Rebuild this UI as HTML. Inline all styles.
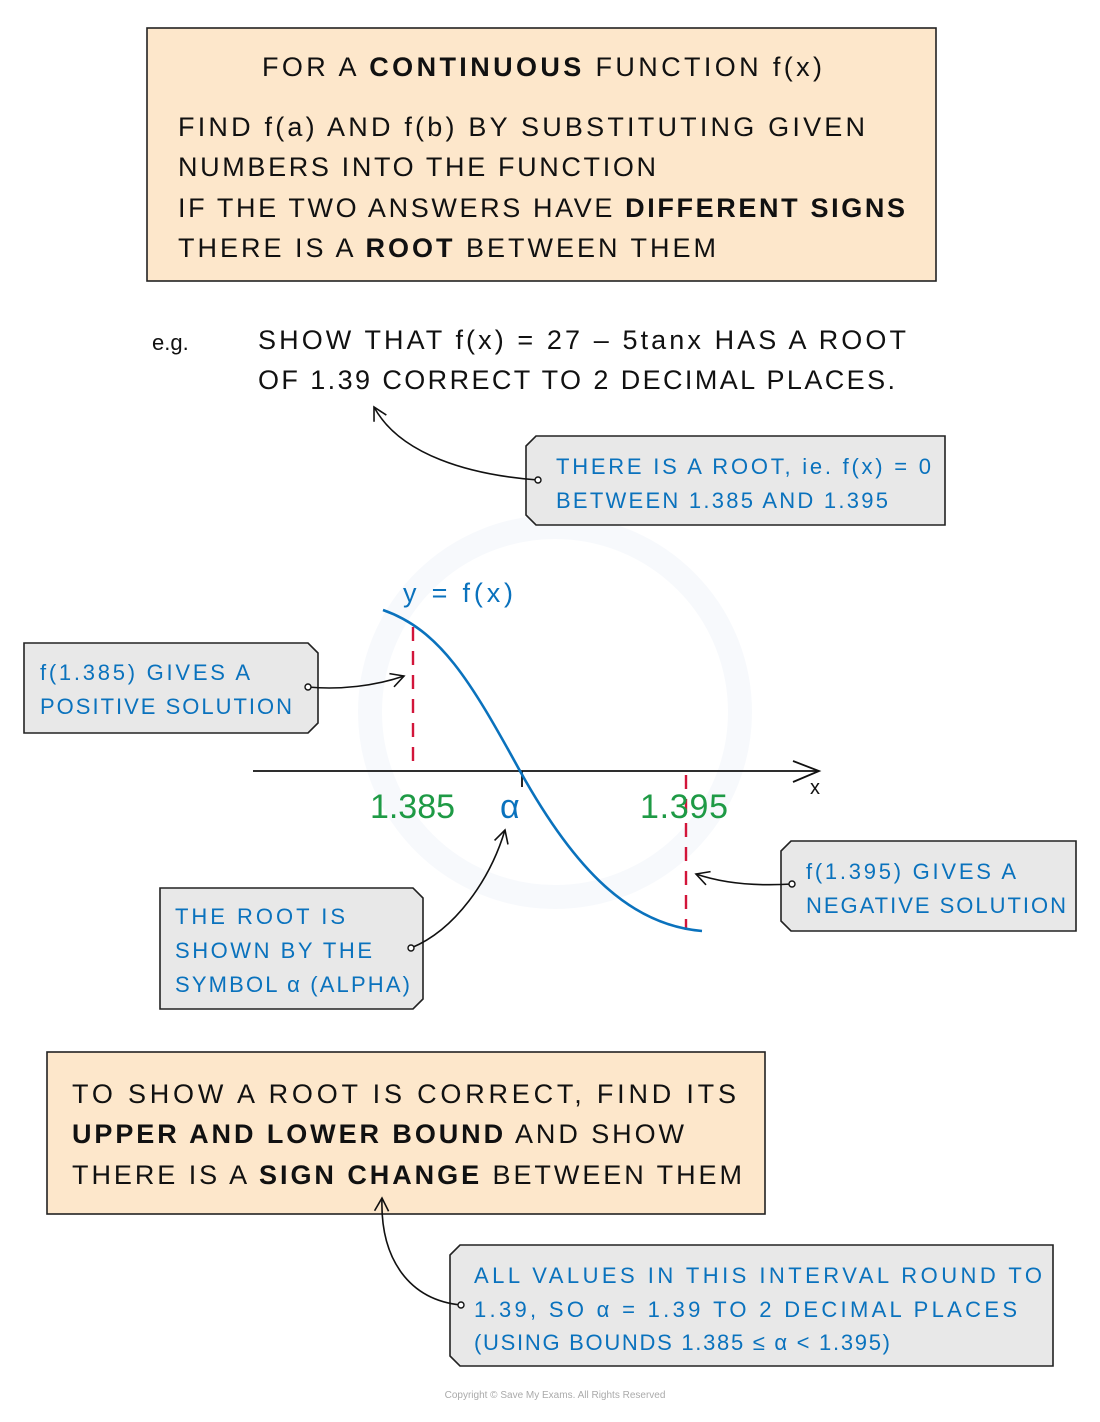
<!DOCTYPE html>
<html><head><meta charset="utf-8"><style>
html,body{margin:0;padding:0;background:#fff}
svg{display:block}
text{font-family:"Liberation Sans","DejaVu Sans",sans-serif}
.k{font-size:27px;fill:#111}
.b{font-size:22px;fill:#0a72bd}
.g{font-size:34px;fill:#1e9a45}
.bd{font-weight:bold}
</style></head><body>
<svg width="1100" height="1422" viewBox="0 0 1100 1422" xmlns="http://www.w3.org/2000/svg">
<defs>
<marker id="ah" markerWidth="16" markerHeight="16" refX="14" refY="8" orient="auto" markerUnits="userSpaceOnUse">
<path d="M1,1 L14,8 L1,15" fill="none" stroke="#111" stroke-width="1.6"/></marker>
</defs>
<!-- watermark -->
<circle cx="555" cy="712" r="185" fill="none" stroke="#f7f9fc" stroke-width="24"/>
<!-- top box -->
<rect x="147" y="28" width="789" height="253" fill="#fde7cb" stroke="#222" stroke-width="1.6"/>
<text class="k" x="262" y="76" textLength="560">FOR  A  <tspan class="bd">CONTINUOUS</tspan>  FUNCTION  f(x)</text>
<text class="k" x="178" y="136" textLength="687">FIND  f(a)  AND  f(b)  BY  SUBSTITUTING  GIVEN</text>
<text class="k" x="178" y="176" textLength="478">NUMBERS  INTO  THE  FUNCTION</text>
<text class="k" x="178" y="217" textLength="727">IF  THE  TWO  ANSWERS  HAVE  <tspan class="bd">DIFFERENT  SIGNS</tspan></text>
<text class="k" x="178" y="257" textLength="538">THERE  IS  A  <tspan class="bd">ROOT</tspan>  BETWEEN  THEM</text>
<!-- example -->
<text class="k" x="152" y="350" style="font-size:22px">e.g.</text>
<text class="k" x="258" y="349" textLength="648">SHOW  THAT  f(x) = 27 – 5tanx  HAS  A  ROOT</text>
<text class="k" x="258" y="389" textLength="637">OF  1.39  CORRECT  TO  2  DECIMAL  PLACES.</text>
<!-- box1 -->
<polygon points="536,436 945,436 945,525 536,525 526,515 526,446" fill="#e8e8e8" stroke="#222" stroke-width="1.6"/>
<text class="b" x="556" y="474" textLength="375">THERE  IS  A  ROOT,  ie. f(x) = 0</text>
<text class="b" x="556" y="508" textLength="332">BETWEEN  1.385  AND  1.395</text>
<path d="M538,480 C470,475 400,455 374,407" fill="none" stroke="#111" stroke-width="1.6" marker-end="url(#ah)"/>
<circle cx="538" cy="480" r="3" fill="#fff" stroke="#111" stroke-width="1.4"/>
<!-- box2 -->
<polygon points="24,643 308,643 318,653 318,723 308,733 24,733" fill="#e8e8e8" stroke="#222" stroke-width="1.6"/>
<text class="b" x="40" y="680" textLength="210">f(1.385)  GIVES  A</text>
<text class="b" x="40" y="714" textLength="252">POSITIVE  SOLUTION</text>
<path d="M308,687 C340,690 375,686 404,676" fill="none" stroke="#111" stroke-width="1.6" marker-end="url(#ah)"/>
<circle cx="308" cy="687" r="3" fill="#fff" stroke="#111" stroke-width="1.4"/>
<!-- graph -->
<line x1="253" y1="771" x2="818" y2="771" stroke="#111" stroke-width="1.8"/>
<path d="M793,761 L819,771 L793,782" fill="none" stroke="#111" stroke-width="1.8"/>
<text class="k" x="810" y="794" style="font-size:20px">x</text>
<line x1="522" y1="771" x2="522" y2="787" stroke="#111" stroke-width="1.8"/>
<line x1="413" y1="627" x2="413" y2="771" stroke="#d2153a" stroke-width="2.4" stroke-dasharray="14,10"/>
<line x1="686" y1="775" x2="686" y2="930" stroke="#d2153a" stroke-width="2.4" stroke-dasharray="14,10"/>
<path d="M383,610 C440,630 470,680 520,771 C575,870 630,925 702,931" fill="none" stroke="#0a72bd" stroke-width="2.6"/>
<text class="b" x="403" y="602" style="font-size:27px" textLength="110">y = f(x)</text>
<text class="g" x="370" y="818" textLength="85">1.385</text>
<text class="g" x="640" y="818" textLength="88">1.395</text>
<text class="b" x="500" y="818" style="font-size:34px">α</text>
<!-- box3 -->
<polygon points="791,841 1076,841 1076,931 791,931 781,921 781,851" fill="#e8e8e8" stroke="#222" stroke-width="1.6"/>
<text class="b" x="806" y="879" textLength="210">f(1.395)  GIVES  A</text>
<text class="b" x="806" y="913" textLength="260">NEGATIVE  SOLUTION</text>
<path d="M792,884 C760,886 725,884 696,874" fill="none" stroke="#111" stroke-width="1.6" marker-end="url(#ah)"/>
<circle cx="792" cy="884" r="3" fill="#fff" stroke="#111" stroke-width="1.4"/>
<!-- box4 -->
<polygon points="160,888 413,888 423,898 423,999 413,1009 160,1009" fill="#e8e8e8" stroke="#222" stroke-width="1.6"/>
<text class="b" x="175" y="924" textLength="170">THE  ROOT  IS</text>
<text class="b" x="175" y="958" textLength="197">SHOWN  BY  THE</text>
<text class="b" x="175" y="992" textLength="235">SYMBOL  α  (ALPHA)</text>
<path d="M411,948 C455,930 490,880 505,830" fill="none" stroke="#111" stroke-width="1.6" marker-end="url(#ah)"/>
<circle cx="411" cy="948" r="3" fill="#fff" stroke="#111" stroke-width="1.4"/>
<!-- box5 -->
<rect x="47" y="1052" width="718" height="162" fill="#fde7cb" stroke="#222" stroke-width="1.6"/>
<text class="k" x="72" y="1103" textLength="664">TO  SHOW  A  ROOT  IS  CORRECT,  FIND  ITS</text>
<text class="k" x="72" y="1143" textLength="612"><tspan class="bd">UPPER  AND  LOWER  BOUND</tspan>  AND  SHOW</text>
<text class="k" x="72" y="1184" textLength="670">THERE  IS  A  <tspan class="bd">SIGN  CHANGE</tspan>  BETWEEN  THEM</text>
<!-- box6 -->
<polygon points="460,1245 1053,1245 1053,1366 460,1366 450,1356 450,1255" fill="#e8e8e8" stroke="#222" stroke-width="1.6"/>
<text class="b" x="474" y="1283" textLength="568">ALL  VALUES  IN  THIS  INTERVAL  ROUND  TO</text>
<text class="b" x="474" y="1317" textLength="543">1.39,  SO  α = 1.39  TO  2  DECIMAL  PLACES</text>
<text class="b" x="474" y="1350" textLength="416">(USING  BOUNDS  1.385 ≤ α &lt; 1.395)</text>
<path d="M461,1305 C410,1300 380,1260 382,1198" fill="none" stroke="#111" stroke-width="1.6" marker-end="url(#ah)"/>
<circle cx="461" cy="1305" r="3" fill="#fff" stroke="#111" stroke-width="1.4"/>
<text x="555" y="1398" text-anchor="middle" style="font-size:10px;fill:#aaa">Copyright © Save My Exams. All Rights Reserved</text>
</svg>
</body></html>
